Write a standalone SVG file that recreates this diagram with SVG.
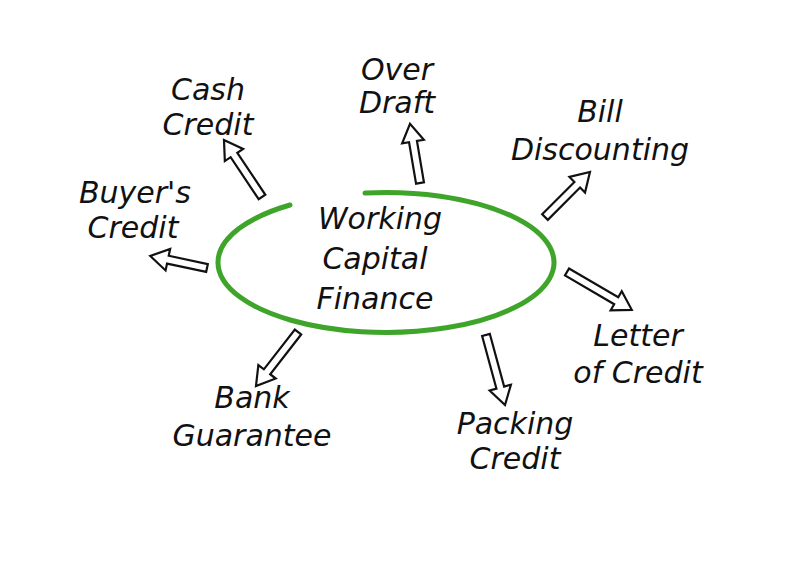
<svg xmlns="http://www.w3.org/2000/svg" width="800" height="564" viewBox="0 0 800 564">
<style>
text{font-family:"DejaVu Sans",sans-serif;font-style:italic;font-size:30px;fill:#111;text-anchor:middle}
.a{fill:#fff;stroke:#111;stroke-width:2.2;stroke-linejoin:miter}
</style>
<defs>
<polygon id="arr" points="0,-4 -18,-4 -18,-11 0,0 -18,11 -18,4" />
</defs>
<rect width="800" height="564" fill="#fff"/>
<g id="center">
<path d="M365,193 A168,70 0 1 1 290,205" fill="none" stroke="#3fa52a" stroke-width="5" stroke-linecap="round"/>
<text x="380" y="229">Working</text>
<text x="375" y="269">Capital</text>
<text x="375" y="309">Finance</text>
</g>
<g id="connectors">
<polygon class="a" transform="translate(262,197) rotate(-123.7)" points="0,-4 50.5,-4 50.5,-11 68.5,0 50.5,11 50.5,4 0,4"/>
<polygon class="a" transform="translate(420,183) rotate(-99.6)" points="0,-4 42,-4 42,-11 60,0 42,11 42,4 0,4"/>
<polygon class="a" transform="translate(545,217) rotate(-45)" points="0,-4 45.6,-4 45.6,-11 63.6,0 45.6,11 45.6,4 0,4"/>
<polygon class="a" transform="translate(567,272) rotate(30.3)" points="0,-4 57,-4 57,-11 75,0 57,11 57,4 0,4"/>
<polygon class="a" transform="translate(486,335) rotate(74.8)" points="0,-4 54.5,-4 54.5,-11 72.5,0 54.5,11 54.5,4 0,4"/>
<polygon class="a" transform="translate(298,332) rotate(127.9)" points="0,-4 50.4,-4 50.4,-11 68.4,0 50.4,11 50.4,4 0,4"/>
<polygon class="a" transform="translate(207,268) rotate(-168)" points="0,-4 40,-4 40,-11 58,0 40,11 40,4 0,4"/>
</g>
<g id="cash"><text x="208" y="100">Cash</text><text x="208" y="135">Credit</text></g>
<g id="over"><text x="397" y="80">Over</text><text x="397" y="113">Draft</text></g>
<g id="bill"><text x="600" y="122">Bill</text><text x="600" y="160">Discounting</text></g>
<g id="buyer"><text x="135" y="203">Buyer's</text><text x="133" y="238">Credit</text></g>
<g id="letter"><text x="638" y="346">Letter</text><text x="638" y="383">of Credit</text></g>
<g id="bank"><text x="252" y="408">Bank</text><text x="252" y="446">Guarantee</text></g>
<g id="packing"><text x="515" y="434">Packing</text><text x="515" y="469">Credit</text></g>
</svg>
